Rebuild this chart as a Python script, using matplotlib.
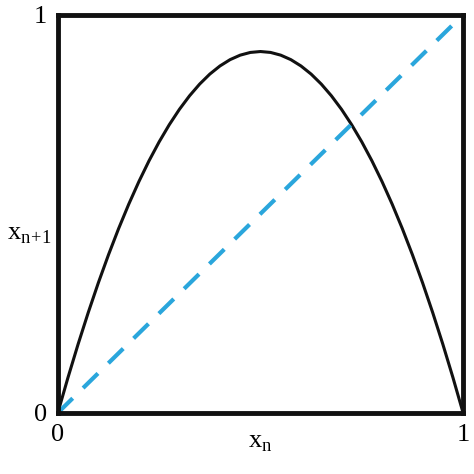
import matplotlib
matplotlib.use("Agg")
import matplotlib.pyplot as plt

plt.rcParams["mathtext.fontset"] = "custom"
plt.rcParams["mathtext.rm"] = "Liberation Serif"

# points (x_n, x_{n+1})
xs = [0, 0.025, 0.05, 0.075, 0.1, 0.125, 0.15, 0.175, 0.2, 0.225, 0.25, 0.275, 0.3, 0.325,
      0.35, 0.375, 0.4, 0.425, 0.45, 0.475, 0.5, 0.525, 0.55, 0.575, 0.6, 0.625, 0.65,
      0.675, 0.7, 0.725, 0.75, 0.775, 0.8, 0.825, 0.85, 0.875, 0.9, 0.925, 0.95, 0.975, 1]
half = [0, 0.0885, 0.1724, 0.2518, 0.3267, 0.3970, 0.4628, 0.5241, 0.5808, 0.6330, 0.6806,
        0.7237, 0.7623, 0.7963, 0.8258, 0.8508, 0.8712, 0.8871, 0.8984, 0.9052, 0.9075]
ys = half + half[-2::-1]
diag = [0, 1]

fig = plt.figure(figsize=(4.74, 4.74), dpi=100)
ax = fig.add_axes([0.122, 0.129, 0.855, 0.840])
ax.plot(xs, ys, color="#111111", lw=2.2)
ax.plot(diag, diag, color="#2aa6dc", lw=3, dashes=(5, 3.5))
ax.set_xlim(0, 1)
ax.set_ylim(0, 1)
for s in ax.spines.values():
    s.set_linewidth(3.5)
    s.set_color("#111111")
ax.set_xticks([0, 1])
ax.set_yticks([0, 1])
ax.tick_params(length=0, labelsize=19, pad=8)
for t in ax.get_xticklabels() + ax.get_yticklabels():
    t.set_family("Liberation Serif")
ax.set_xlabel("x$_\\mathregular{n}$", fontsize=19, family="Liberation Serif", labelpad=-10)
ax.set_ylabel("x$_\\mathregular{n\\!+\\!1}$", fontsize=19, family="Liberation Serif", rotation=0, labelpad=2)
ax.yaxis.set_label_coords(-0.07, 0.42)
fig.savefig("out.png")
